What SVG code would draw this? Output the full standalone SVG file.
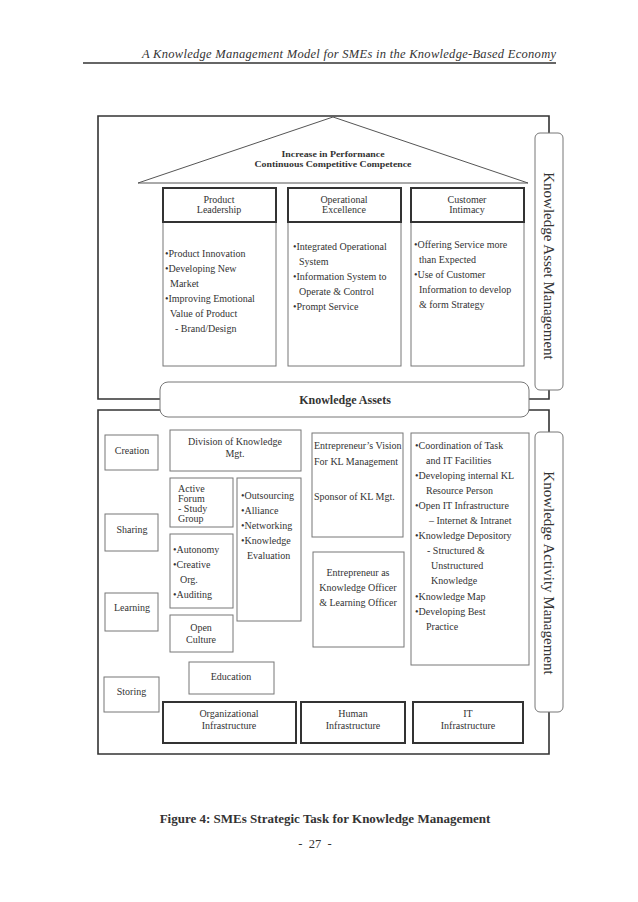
<svg xmlns="http://www.w3.org/2000/svg" width="638" height="902" viewBox="0 0 638 902">
<style>
text{font-family:"Liberation Serif","Times New Roman",serif;fill:#333;font-size:10px}
.c{text-anchor:middle}
.b{font-weight:bold}
.frame{fill:none;stroke:#333;stroke-width:1.6}
.thin{fill:#fff;stroke:#777;stroke-width:1}
.thick{fill:#fff;stroke:#333;stroke-width:2}
.tab{fill:#fff;stroke:#777;stroke-width:1}
.roof{fill:none;stroke:#555;stroke-width:1}
</style>
<rect width="638" height="902" fill="#fff"/>
<text x="142" y="58" textLength="414" lengthAdjust="spacing" style="font-style:italic;font-size:12.5px">A Knowledge Management Model for SMEs in the Knowledge-Based Economy</text>
<line x1="83" y1="63" x2="556" y2="63" stroke="#333" stroke-width="1.3"/>

<g id="connectors">
<path class="frame" d="M160,399 H98 V116 H549 V133"/>
<path class="frame" d="M549,390 V399 H529"/>
<path class="frame" d="M160,410 H98 V754 H549 V712"/>
<path class="frame" d="M549,432 V410 H529"/>
</g>

<g id="roof">
<path class="roof" d="M138,183 L333,117 L528,183 Z"/>
<text class="c b" x="333" y="156.5" style="font-size:9px" textLength="103" lengthAdjust="spacingAndGlyphs">Increase in Performance</text>
<text class="c b" x="333" y="167" style="font-size:9px" textLength="157" lengthAdjust="spacingAndGlyphs">Continuous Competitive Competence</text>
</g>

<g id="product">
<rect class="thin" x="163" y="222" width="113" height="144"/>
<rect class="thick" x="163" y="188" width="113" height="34"/>
<text class="c" x="219" y="202.5">Product</text>
<text class="c" x="219" y="212.5">Leadership</text>
<text x="165" y="256.5">•Product Innovation</text>
<text x="165" y="271.6">•Developing New</text>
<text x="170" y="286.7">Market</text>
<text x="165" y="301.8">•Improving Emotional</text>
<text x="170" y="316.9">Value of Product</text>
<text x="175" y="332">- Brand/Design</text>
</g>

<g id="operational">
<rect class="thin" x="288" y="222" width="113" height="144"/>
<rect class="thick" x="288" y="188" width="113" height="34"/>
<text class="c" x="344" y="202.5">Operational</text>
<text class="c" x="344" y="212.5">Excellence</text>
<text x="293" y="249.5">•Integrated Operational</text>
<text x="299" y="264.5">System</text>
<text x="293" y="279.5">•Information System to</text>
<text x="299" y="294.5">Operate &amp; Control</text>
<text x="293" y="309.5">•Prompt Service</text>
</g>

<g id="customer">
<rect class="thin" x="411" y="222" width="113" height="144"/>
<rect class="thick" x="411" y="188" width="113" height="34"/>
<text class="c" x="467" y="202.5">Customer</text>
<text class="c" x="467" y="212.5">Intimacy</text>
<text x="414" y="247.5">•Offering Service more</text>
<text x="419" y="262.5">than Expected</text>
<text x="414" y="277.5">•Use of Customer</text>
<text x="419" y="292.5">Information to develop</text>
<text x="419" y="307.5">&amp; form Strategy</text>
</g>

<g id="kam">
<rect class="tab" x="535" y="133" width="28" height="257" rx="5"/>
<text transform="translate(544,266) rotate(90)" class="c" style="font-size:15px">Knowledge Asset Management</text>
</g>

<g id="knowledge-assets">
<rect class="tab" x="160" y="382" width="369" height="35" rx="8"/>
<text class="c b" x="345" y="404" style="font-size:12px">Knowledge Assets</text>
</g>

<g id="kactm">
<rect class="tab" x="535" y="432" width="28" height="280" rx="5"/>
<text transform="translate(544,573) rotate(90)" class="c" style="font-size:15px">Knowledge Activity Management</text>
</g>

<g id="creation"><rect class="thin" x="105" y="435" width="53" height="35"/><text class="c" x="132" y="453.5">Creation</text></g>
<g id="sharing"><rect class="thin" x="105" y="514" width="53" height="37"/><text class="c" x="132" y="532.5">Sharing</text></g>
<g id="learning"><rect class="thin" x="105" y="593" width="53" height="38"/><text class="c" x="132" y="610.5">Learning</text></g>
<g id="storing"><rect class="thin" x="104" y="677" width="55" height="35"/><text class="c" x="131.5" y="694.5">Storing</text></g>

<g id="division">
<rect class="thin" x="170" y="430" width="131" height="41"/>
<text class="c" x="235" y="444.5">Division of Knowledge</text>
<text class="c" x="235" y="456.5">Mgt.</text>
</g>

<g id="active-forum">
<rect class="thin" x="170" y="478" width="63" height="49"/>
<text x="178" y="491.5">Active</text>
<text x="178" y="501.5">Forum</text>
<text x="178" y="511.5">- Study</text>
<text x="178" y="521.5">Group</text>
</g>

<g id="outsourcing">
<rect class="thin" x="237" y="478" width="64" height="143"/>
<text x="241" y="498.5">•Outsourcing</text>
<text x="241" y="513.5">•Alliance</text>
<text x="241" y="528.5">•Networking</text>
<text x="241" y="543.5">•Knowledge</text>
<text x="247" y="558.5">Evaluation</text>
</g>

<g id="autonomy">
<rect class="thin" x="170" y="534" width="63" height="74"/>
<text x="173" y="552.5">•Autonomy</text>
<text x="173" y="567.5">•Creative</text>
<text x="180" y="582.5">Org.</text>
<text x="173" y="597.5">•Auditing</text>
</g>

<g id="open-culture">
<rect class="thin" x="170" y="615" width="63" height="37"/>
<text class="c" x="201" y="630.5">Open</text>
<text class="c" x="201" y="642.5">Culture</text>
</g>

<g id="education">
<rect class="thin" x="189" y="662" width="85" height="32"/>
<text class="c" x="231" y="679.5">Education</text>
</g>

<g id="vision">
<rect class="thin" x="312" y="433" width="91" height="104"/>
<text x="314" y="448.5">Entrepreneur’s Vision</text>
<text x="314" y="464.5">For KL Management</text>
<text x="314" y="499.5">Sponsor of KL Mgt.</text>
</g>

<g id="officer">
<rect class="thin" x="313" y="552" width="91" height="95"/>
<text class="c" x="358" y="575.5">Entrepreneur as</text>
<text class="c" x="358" y="590.5">Knowledge Officer</text>
<text class="c" x="358" y="605.5">&amp; Learning Officer</text>
</g>

<g id="coordination">
<rect class="thin" x="411" y="433" width="118" height="232"/>
<text x="415" y="448.5">•Coordination of Task</text>
<text x="426" y="463.6">and IT Facilities</text>
<text x="415" y="478.7">•Developing internal KL</text>
<text x="426" y="493.8">Resource Person</text>
<text x="415" y="508.9">•Open IT Infrastructure</text>
<text x="429" y="524">– Internet &amp; Intranet</text>
<text x="415" y="539.1">•Knowledge Depository</text>
<text x="427" y="554.2">- Structured &amp;</text>
<text x="431" y="569.3">Unstructured</text>
<text x="431" y="584.4">Knowledge</text>
<text x="415" y="599.5">•Knowledge Map</text>
<text x="415" y="614.6">•Developing Best</text>
<text x="426" y="629.7">Practice</text>
</g>

<g id="org-infra">
<rect class="thick" x="163" y="702" width="133" height="41"/>
<text class="c" x="229" y="716.5">Organizational</text>
<text class="c" x="229" y="728.5">Infrastructure</text>
</g>
<g id="human-infra">
<rect class="thick" x="301" y="702" width="104" height="41"/>
<text class="c" x="353" y="716.5">Human</text>
<text class="c" x="353" y="728.5">Infrastructure</text>
</g>
<g id="it-infra">
<rect class="thick" x="413" y="702" width="110" height="41"/>
<text class="c" x="468" y="716.5">IT</text>
<text class="c" x="468" y="728.5">Infrastructure</text>
</g>

<text class="c b" x="325" y="823" style="font-size:13px">Figure 4: SMEs Strategic Task for Knowledge Management</text>
<text class="c" x="315" y="848" style="font-size:12.5px" xml:space="preserve">-  27  -</text>
</svg>
